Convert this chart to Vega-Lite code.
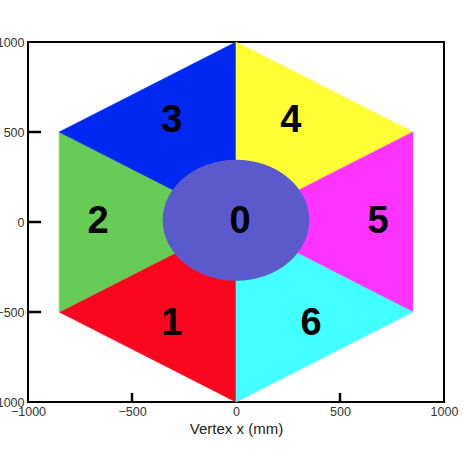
{
  "$schema": "https://vega.github.io/schema/vega-lite/v6.json",
  "width": 416,
  "height": 360,
  "autosize": "none",
  "padding": {"left": 28, "top": 42, "right": 30, "bottom": 72},
  "background": "white",
  "config": {
    "font": "Liberation Sans",
    "view": {"stroke": "black", "strokeWidth": 2},
    "axis": {"domain": false, "grid": false, "labelFlush": false}
  },
  "datasets": {
    "sectors": [
      {"sector": "1", "x": 0, "y": -1000, "y2": 0},
      {"sector": "1", "x": -850, "y": -500, "y2": -500},
      {"sector": "2", "x": 0, "y": 0, "y2": 0},
      {"sector": "2", "x": -850, "y": -500, "y2": 500},
      {"sector": "3", "x": 0, "y": 0, "y2": 1000},
      {"sector": "3", "x": -850, "y": 500, "y2": 500},
      {"sector": "4", "x": 0, "y": 0, "y2": 1000},
      {"sector": "4", "x": 850, "y": 500, "y2": 500},
      {"sector": "5", "x": 0, "y": 0, "y2": 0},
      {"sector": "5", "x": 850, "y": -500, "y2": 500},
      {"sector": "6", "x": 0, "y": -1000, "y2": 0},
      {"sector": "6", "x": 850, "y": -500, "y2": -500}
    ],
    "center": [
      {"x": 0, "y": 10}
    ],
    "xticks": [
      {"v": -500},
      {"v": 500}
    ],
    "yticks": [
      {"v": -500},
      {"v": 0},
      {"v": 500}
    ],
    "labels": [
      {"label": "0", "x": 19, "y": 0},
      {"label": "1", "x": -308, "y": -565},
      {"label": "2", "x": -663, "y": 0},
      {"label": "3", "x": -308, "y": 560},
      {"label": "4", "x": 264, "y": 560},
      {"label": "5", "x": 683, "y": 0},
      {"label": "6", "x": 361, "y": -565}
    ]
  },
  "layer": [
    {
      "data": {"name": "sectors"},
      "mark": {"type": "area", "strokeWidth": 0.6, "opacity": 1},
      "encoding": {
        "x": {
          "field": "x",
          "type": "quantitative",
          "scale": {"domain": [-1000, 1000], "nice": false},
          "axis": null
        },
        "y": {
          "field": "y",
          "type": "quantitative",
          "scale": {"domain": [-1000, 1000], "nice": false},
          "axis": null
        },
        "y2": {"field": "y2"},
        "color": {
          "field": "sector",
          "type": "nominal",
          "legend": null,
          "scale": {
            "domain": ["1", "2", "3", "4", "5", "6"],
            "range": ["#fa061e", "#66cc55", "#0028f0", "#ffff33", "#ff33ff", "#44ffff"]
          }
        },
        "stroke": {
          "field": "sector",
          "type": "nominal",
          "legend": null,
          "scale": {
            "domain": ["1", "2", "3", "4", "5", "6"],
            "range": ["#fa061e", "#66cc55", "#0028f0", "#ffff33", "#ff33ff", "#44ffff"]
          }
        }
      }
    },
    {
      "data": {"name": "xticks"},
      "mark": {"type": "rule", "strokeWidth": 2.5, "color": "black", "opacity": 1},
      "encoding": {
        "x": {"field": "v", "type": "quantitative", "axis": null},
        "y": {"datum": -1000, "type": "quantitative", "axis": null},
        "y2": {"datum": -950}
      }
    },
    {
      "data": {"name": "yticks"},
      "mark": {"type": "rule", "strokeWidth": 2.5, "color": "black", "opacity": 1},
      "encoding": {
        "x": {"datum": -1000, "type": "quantitative", "axis": null},
        "x2": {"datum": -937},
        "y": {"field": "v", "type": "quantitative", "axis": null}
      }
    },
    {
      "data": {"name": "center"},
      "mark": {
        "type": "point",
        "shape": "M-1,0A1,0.825,0,1,1,1,0A1,0.825,0,1,1,-1,0Z",
        "size": 21500,
        "filled": true,
        "opacity": 1,
        "color": "#5a5acd"
      },
      "encoding": {
        "x": {
          "field": "x",
          "type": "quantitative",
          "axis": {
            "orient": "bottom",
            "title": "Vertex x (mm)",
            "values": [-1000, -500, 0, 500, 1000],
            "format": "d",
            "ticks": false,
            "labelPadding": 3,
            "labelFontSize": 12.5,
            "labelColor": "#333333",
            "titleFontSize": 15,
            "titleFontWeight": "normal",
            "titleColor": "#222222",
            "titlePadding": 4
          }
        },
        "y": {
          "field": "y",
          "type": "quantitative",
          "axis": {
            "orient": "left",
            "title": null,
            "values": [-1000, -500, 0, 500, 1000],
            "format": "d",
            "ticks": false,
            "labelPadding": 4,
            "labelFontSize": 12.5,
            "labelColor": "#333333"
          }
        }
      }
    },
    {
      "data": {"name": "labels"},
      "mark": {
        "type": "text",
        "fontSize": 38,
        "fontWeight": "bold",
        "baseline": "middle",
        "align": "center",
        "color": "black"
      },
      "encoding": {
        "x": {"field": "x", "type": "quantitative", "axis": null},
        "y": {"field": "y", "type": "quantitative", "axis": null},
        "text": {"field": "label"}
      }
    }
  ],
  "resolve": {"axis": {"x": "independent", "y": "independent"}}
}
